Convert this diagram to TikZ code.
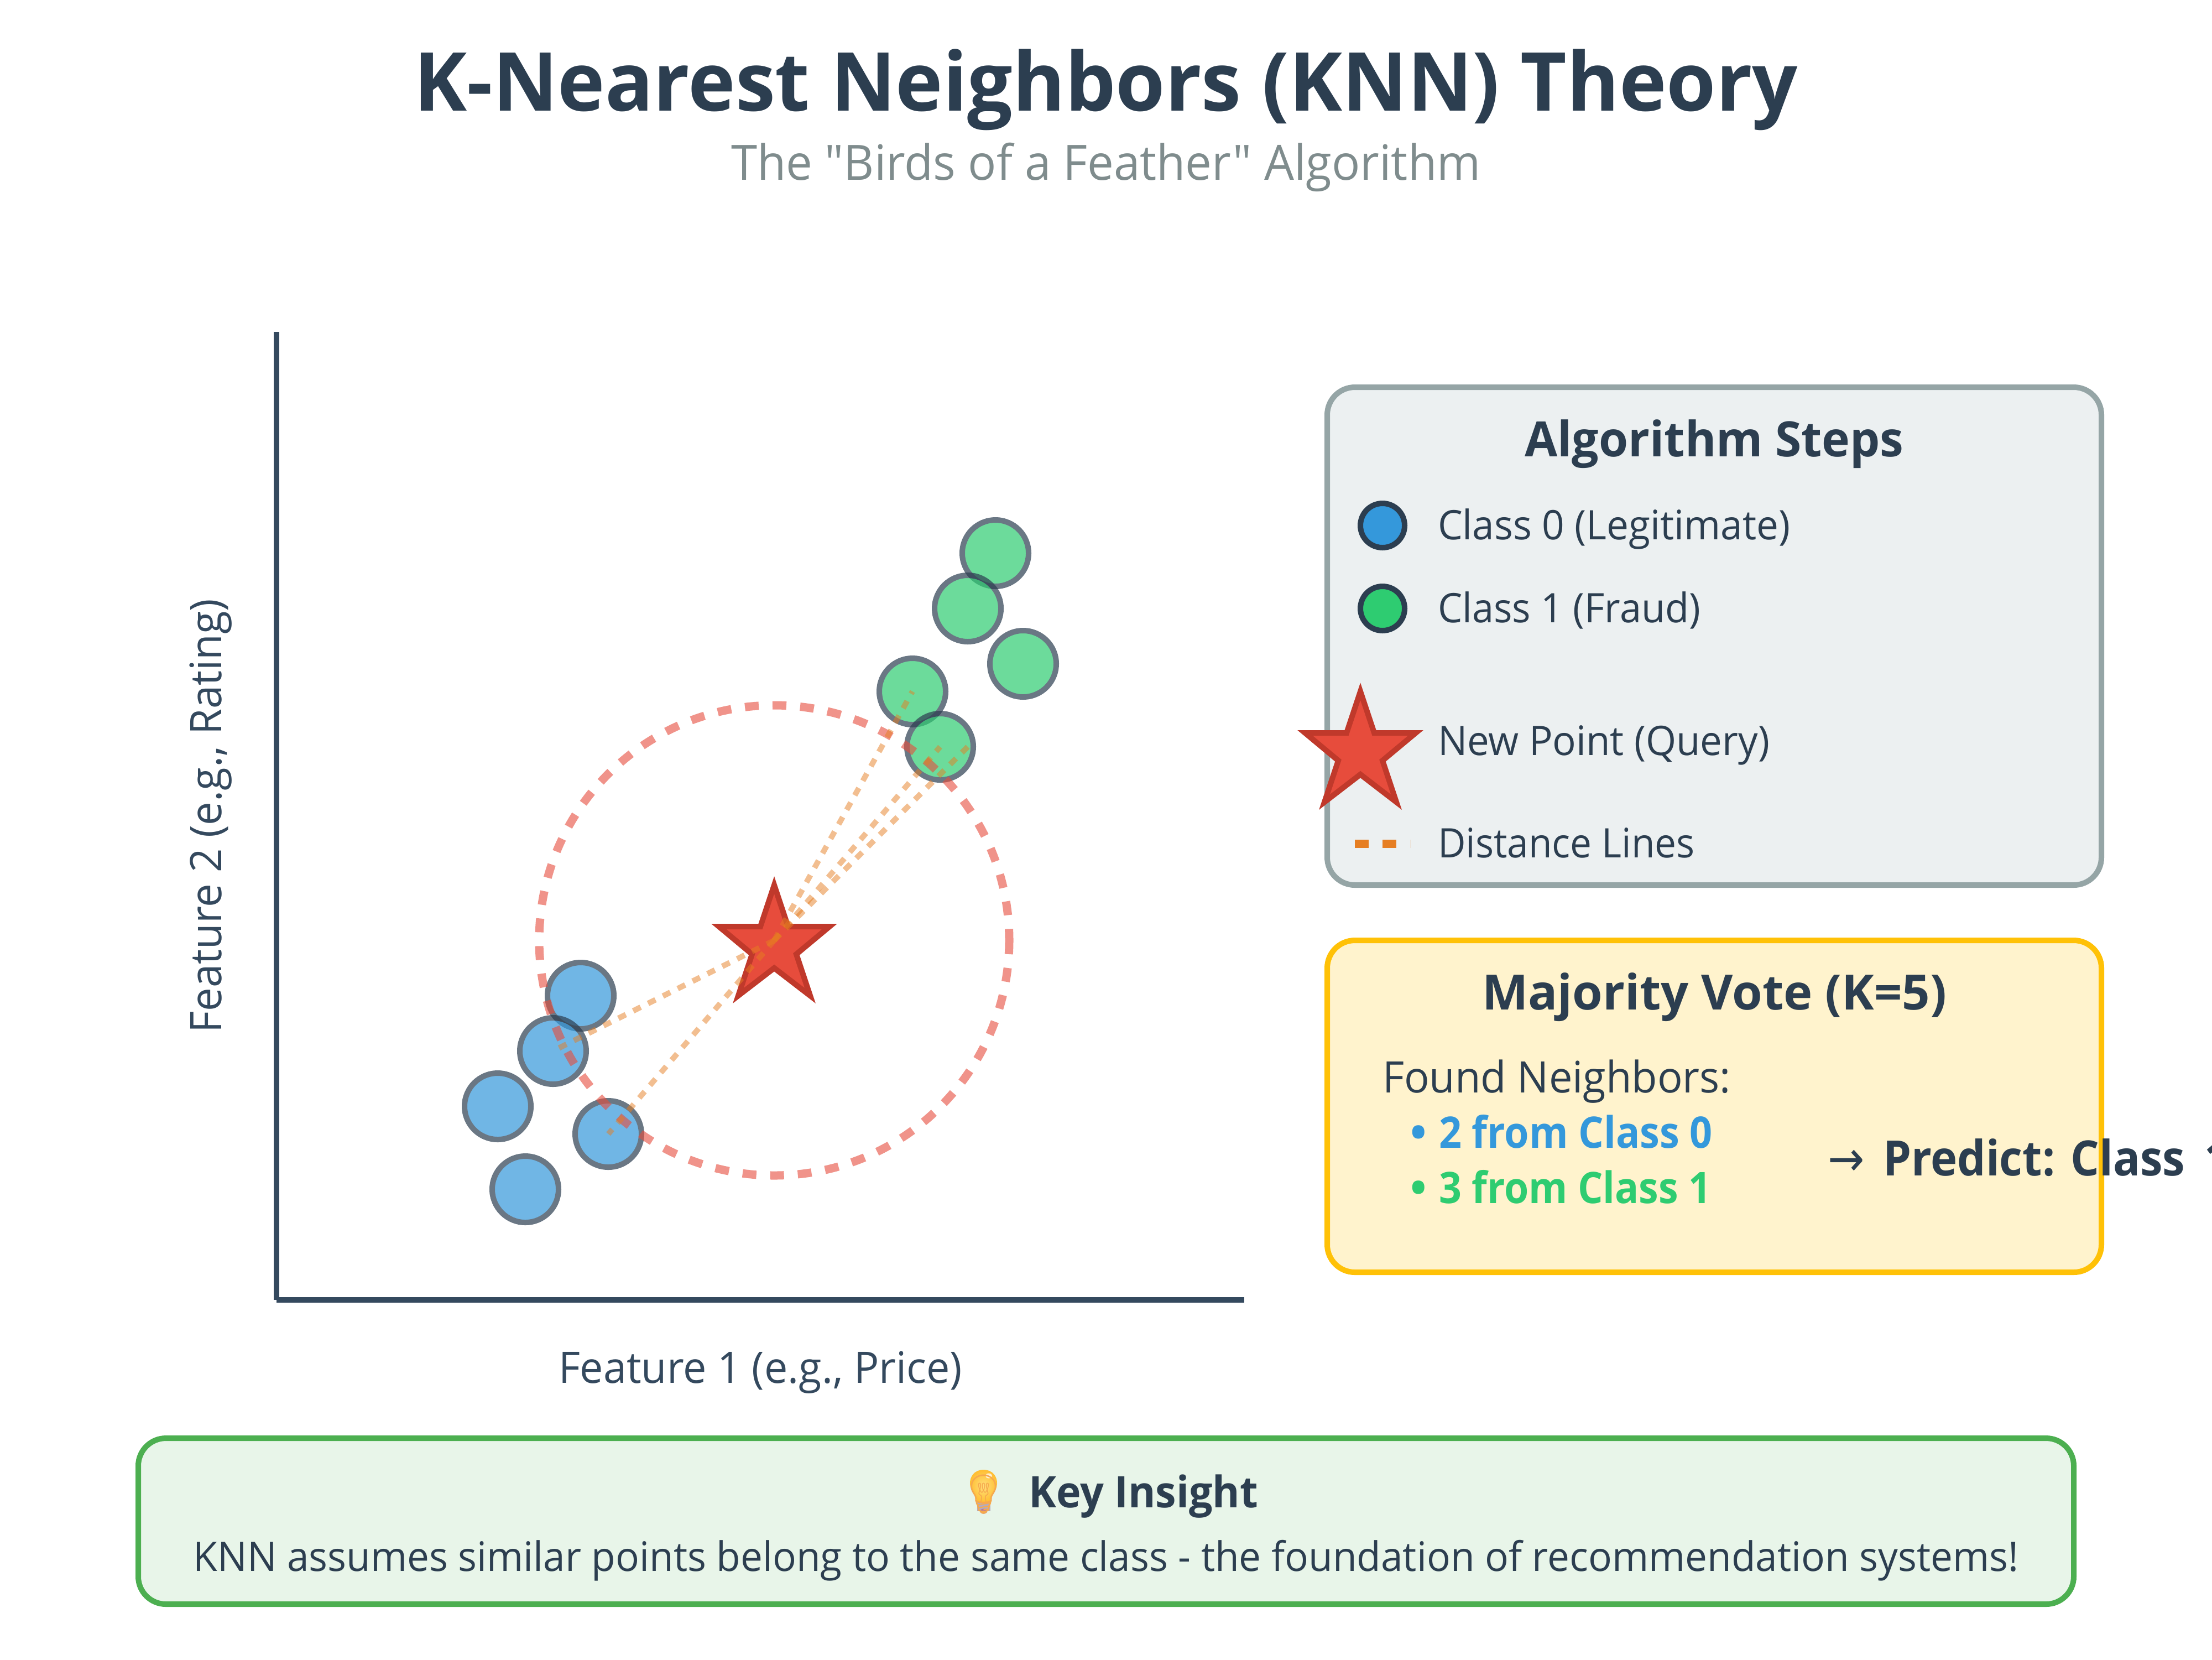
\documentclass[tikz,border=0pt]{standalone}
\usepackage{fontspec}
\usepackage{graphicx}
\setmainfont{Open Sans}
\newfontfamily\plainfont{Open Sans}
\newfontfamily\arrowfont{DejaVu Sans}
\newfontfamily\emojifont{Noto Emoji}
\definecolor{ink}{HTML}{2C3E50}
\definecolor{axisink}{HTML}{34495E}
\definecolor{muted}{HTML}{7F8C8D}
\definecolor{cblue}{HTML}{3498DB}
\definecolor{cgreen}{HTML}{2ECC71}
\definecolor{cred}{HTML}{E74C3C}
\definecolor{credd}{HTML}{C0392B}
\definecolor{corange}{HTML}{E67E22}
\definecolor{panelgrey}{HTML}{ECF0F1}
\definecolor{panelgreyb}{HTML}{95A5A6}
\definecolor{panelyel}{HTML}{FFF3CD}
\definecolor{panelyelb}{HTML}{FFC107}
\definecolor{panelgrn}{HTML}{E8F5E9}
\definecolor{panelgrnb}{HTML}{4CAF50}
\definecolor{bulbin}{HTML}{FFE07A}
\definecolor{bulbout}{HTML}{FFBE33}
\definecolor{bulbline}{HTML}{F6A94E}
\definecolor{bulbbase}{HTML}{B5ABBD}
\newcommand{\fw}[2]{\resizebox{#1pt}{\height}{#2}}
\newcommand{\fs}[2]{\fontsize{#1}{#2}\selectfont}
\tikzset{
  lbl/.style={inner sep=0pt,outer sep=0pt,text=ink,anchor=base},
  lbll/.style={lbl,anchor=base west},
  panel/.style={rounded corners=10pt,line width=2pt},
  ptnode/.style={circle,inner sep=0pt,minimum size=24pt,draw=ink,line width=2pt},
  legnode/.style={circle,inner sep=0pt,minimum size=16pt,draw=ink,line width=2pt},
  axisline/.style={draw=axisink,line width=2pt},
  radius line/.style={draw=cred,line width=3pt,dash pattern=on 5pt off 5pt,opacity=.6},
  distline/.style={draw=corange,line width=2pt,dash pattern=on 3pt off 3pt,opacity=.5},
  legline/.style={draw=corange,line width=3pt,dash pattern=on 5pt off 5pt},
  starshape/.style={draw=credd,fill=cred,line width=2pt,miter limit=10},
}
\newcommand{\datapt}[4]{\begin{scope}[transparency group,opacity=.7]\node[ptnode,fill=#4] (#1) at (#2,#3) {};\end{scope}}
\newcommand{\starat}[2]{\draw[starshape,shift={(#1,#2)}] (0,-20) -- (5,-5) -- (20,-5) -- (8,5) -- (13,20) -- (0,10) -- (-13,20) -- (-8,5) -- (-20,-5) -- (-5,-5) -- cycle;}
\begin{document}
\begin{tikzpicture}[x=1pt,y=-1pt]
\path[use as bounding box] (0,0) rectangle (800,600);
\clip (0,0) rectangle (800,600);
\fill[white] (0,0) rectangle (800,600);
% title
\node[lbl] (title) at (400,40) {\fs{29.4}{34}\bfseries\fw{500.5}{K-Nearest Neighbors (KNN) Theory}};
\node[lbl,text=muted] (subtitle) at (400,65) {\fs{17.6}{22}\fw{271}{\plainfont The "Birds of a Feather" Algorithm}};
% axes
\coordinate (origin) at (100,470);
\coordinate (ytop) at (100,120);
\coordinate (xend) at (450,470);
\draw[axisline] (ytop) -- (origin);
\draw[axisline] (origin) -- (xend);
\node[lbl,text=axisink] (xlab) at (275,500) {\fs{15.7}{20}\fw{146}{Feature 1 (e.g., Price)}};
\node[lbl,text=axisink,rotate=90] (ylab) at (80,295) {\fs{15.7}{20}\fw{157}{Feature 2 (e.g., Rating)}};
% points
\datapt{b1}{210}{360}{cblue}
\datapt{b2}{200}{380}{cblue}
\datapt{b3}{180}{400}{cblue}
\datapt{b4}{220}{410}{cblue}
\datapt{b5}{190}{430}{cblue}
\datapt{g1}{360}{200}{cgreen}
\datapt{g2}{350}{220}{cgreen}
\datapt{g3}{370}{240}{cgreen}
\datapt{g4}{330}{250}{cgreen}
\datapt{g5}{340}{270}{cgreen}
% radius
\coordinate (query) at (280,340);
\draw[radius line] (query) circle[radius=85];
\starat{280}{340}
\coordinate (near) at (350,270);
\foreach \t in {g4.center,g5.center,near,b2.center,b4.center}
  \draw[distline] (query) -- (\t);
% legend panel
\draw[panel,draw=panelgreyb,fill=panelgrey] (480,140) rectangle (760,320);
\node[lbl] (legtitle) at (620,165) {\fs{17.6}{22}\bfseries\fw{137}{Algorithm Steps}};
\node[legnode,fill=cblue] (leg0) at (500,190) {};
\node[lbll] (legt0) at (520,195) {\fs{14.7}{18}\fw{127.5}{Class 0 (Legitimate)}};
\node[legnode,fill=cgreen] (leg1) at (500,220) {};
\node[lbll] (legt1) at (520,225) {\fs{14.7}{18}\fw{95}{Class 1 (Fraud)}};
\starat{492}{270}
\node[lbll] (legt2) at (520,273) {\fs{14.7}{18}\fw{120}{New Point (Query)}};
\coordinate (ll0) at (490,305);
\coordinate (ll1) at (510,305);
\draw[legline] (ll0) -- (ll1);
\node[lbll] (legt3) at (520,310) {\fs{14.7}{18}\fw{93}{Distance Lines}};
% vote panel
\draw[panel,draw=panelyelb,fill=panelyel] (480,340) rectangle (760,460);
\node[lbl] (votet) at (620,365) {\fs{17.6}{22}\bfseries\fw{168}{Majority Vote (K=5)}};
\node[lbll] (found) at (500,395) {\fs{15.7}{20}\fw{126}{Found Neighbors:}};
\node[lbll,text=cblue] (v0) at (510,415) {\fs{15.7}{18}\bfseries\makebox[10.4pt][l]{•}\fw{99}{2 from Class 0}};
\node[lbll,text=cgreen] (v1) at (510,435) {\fs{15.7}{18}\bfseries\makebox[10.4pt][l]{•}\fw{98.5}{3 from Class 1}};
\node[lbll] (pred) at (661,425) {\fs{17.6}{22}\makebox[20pt][l]{\scalebox{.9}[1]{\arrowfont→}}\bfseries\scalebox{.925}[1]{Predict: Class\hspace{3pt} 1}};
% insight panel
\draw[panel,draw=panelgrnb,fill=panelgrn] (50,520) rectangle (750,580);
\path[shade,inner color=bulbin,outer color=bulbout] (355.7,531.4) .. controls (352.3,531.4) and (350.7,534) .. (350.8,536.5) .. controls (350.9,539.3) and (353.3,541) .. (353.6,543.2) -- (357.8,543.2) .. controls (358.1,541) and (360.5,539.3) .. (360.6,536.5) .. controls (360.7,534) and (359.1,531.4) .. (355.7,531.4) -- cycle;
\fill[bulbbase] (353.4,543.2) rectangle (358.1,546.4);
\fill[bulbbase!70!purple] (355.75,546.4) ellipse[x radius=1.3,y radius=.9];
\fill[white,opacity=.75] (357.6,533.6) ellipse[x radius=1.2,y radius=.9];
\node[lbl] (emoji) at (355.7,545) {\fs{14}{16}\emojifont\textcolor{bulbline}{💡}};
\node[lbll] (keyt) at (372,545) {\fs{15.7}{20}\bfseries\fw{83}{Key Insight}};
\node[lbl] (keyb) at (400,568) {\fs{14.7}{18}\fw{660}{KNN assumes similar points belong to the same class - the foundation of recommendation systems!}};
\end{tikzpicture}
\end{document}
